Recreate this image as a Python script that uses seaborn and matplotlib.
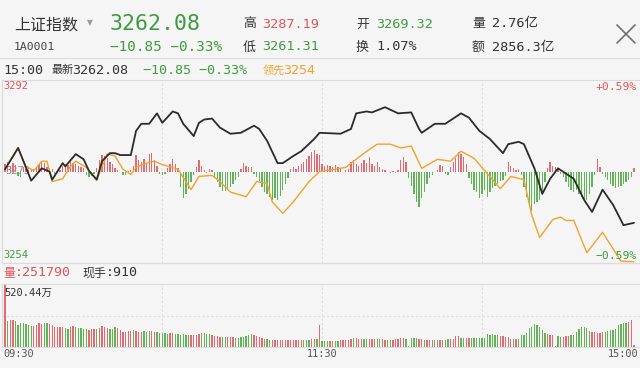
import numpy as np
import pandas as pd
import matplotlib
matplotlib.use("Agg")
import matplotlib.pyplot as plt
from matplotlib.lines import Line2D
import seaborn as sns

# ---------------- data ----------------
pre_close = 3272.93
y_top, y_bot = 3292.24, 3253.62

# price line (minute index, price)
t_price = [0, 5, 10, 14, 17, 18, 22, 23, 27, 30, 32, 35, 37, 40, 42, 44, 48, 50, 52, 55,
           58, 60, 64, 66, 68, 72, 74, 76, 79, 82, 86, 90, 95, 97, 100, 104, 106, 110, 113, 118,
           120, 128, 132, 134, 138, 140, 145, 150, 155, 158, 159, 164, 168, 174, 177, 181, 185, 190, 192, 196,
           198, 202, 205, 208, 211, 217, 221, 224, 228, 232, 236, 240]
price = [3273.4, 3277.9, 3271.0, 3273.6, 3272.9, 3271.2, 3274.7, 3274.0, 3276.6, 3275.5,
         3273.1, 3271.2, 3275.1, 3276.8, 3276.8, 3276.4, 3276.4, 3281.5, 3283.0, 3283.0,
         3285.2, 3283.2, 3285.6, 3285.2, 3283.0, 3280.4, 3283.2, 3283.9, 3284.1, 3282.2,
         3280.9, 3281.1, 3282.6, 3281.9, 3279.4, 3274.7, 3274.7, 3276.2, 3277.2, 3279.8,
         3281.1, 3280.9, 3281.9, 3285.2, 3285.6, 3285.4, 3286.5, 3285.2, 3285.4, 3281.9,
         3281.1, 3283.0, 3283.0, 3285.2, 3284.3, 3281.5, 3279.8, 3276.8, 3278.7, 3279.2,
         3278.7, 3273.6, 3268.2, 3271.4, 3273.6, 3271.4, 3266.9, 3264.4, 3269.1, 3265.9,
         3261.6, 3262.1]

# leading index line
t_lead = [1, 5, 8, 11, 14, 16, 18, 22, 25, 27, 31, 35, 39, 42, 45, 48, 50, 54, 57, 60,
          66, 71, 74, 79, 82, 86, 92, 96, 100, 102, 106, 110, 116, 120, 130, 137, 142, 147, 151, 155,
          159, 165, 170, 174, 179, 184, 189, 193, 198, 201, 204, 209, 212, 214, 217, 222, 228, 235, 240]
lead = [3274.4, 3277.9, 3274.0, 3273.1, 3275.1, 3275.1, 3270.8, 3271.4, 3274.0, 3275.1,
        3273.8, 3271.2, 3276.6, 3276.2, 3273.4, 3272.3, 3273.8, 3274.7, 3275.1, 3274.4,
        3273.4, 3269.1, 3271.9, 3272.1, 3270.8, 3268.6, 3267.6, 3270.8, 3270.4, 3266.5,
        3264.1, 3266.5, 3270.8, 3272.9, 3273.8, 3276.8, 3278.7, 3278.7, 3277.9, 3278.3,
        3273.6, 3275.5, 3275.1, 3277.2, 3275.7, 3272.5, 3269.3, 3271.9, 3271.2, 3263.7,
        3259.0, 3262.8, 3263.3, 3262.6, 3262.6, 3255.8, 3260.1, 3254.0, 3253.9]

# buy/sell strength bars (one per minute)
strength = [8, 10, 6, 9, 7, -4, -5, 5, 3, 2,
            2, 3, 5, 8, 10, 9, 5, 4, 3, -2,
            -1, 2, 6, 8, 7, 10, 9, 8, 6, 5,
            4, -3, -5, -4, -2, 4, 12, 17, 16, 14,
            10, 8, 4, 2, 0, -3, -3, 1, 2, 6,
            17, 12, 10, 13, 9, 18, 19, 12, 6, -2,
            -3, -2, 4, 8, 13, 8, 4, -15, -26, -22,
            -17, -10, -3, 5, 12, 6, 2, -1, 3, 2,
            -5, -10, -15, -19, -19, -18, -15, -12, -8, -5,
            3, 9, 6, 5, 5, -2, -5, -10, -15, -20,
            -22, -25, -28, -26, -28, -24, -18, -12, -6, 3,
            5, 3, 6, 8, 10, 13, 16, 20, 22, 18,
            17, 8, 6, 7, 6, 5, 7, 5, 3, 0,
            2, 3, 10, 12, 8, 6, 9, 12, 9, 15,
            8, 6, 10, 5, 3, 2, 0, -1, 1, -1,
            2, 12, 15, 10, -6, -14, -22, -30, -35, -26,
            -20, -12, -6, -3, 0, 2, 7, 6, -2, -3,
            5, 10, 14, 20, 18, 15, 8, -6, -12, -18,
            -20, -26, -22, -18, -25, -20, -16, -14, -12, -9,
            -8, -4, 10, 6, 4, 2, 3, -3, -15, -25,
            -35, -39, -32, -30, -28, -20, -10, 4, 10, 6,
            5, 3, -2, -5, -10, -15, -18, -20, -18, -22,
            -25, -29, -28, -22, -15, -3, 13, 5, -2, -5,
            -8, -12, -14, -16, -15, -14, -12, -10, -8, -5, 4]

# volume per minute (万手)
volume = [520.44,
          215, 223, 223, 215, 182, 198, 198, 190, 182, 173,
          173, 182, 198, 190, 198, 198, 190, 182, 165, 165,
          165, 165, 157, 149, 165, 173, 165, 157, 157, 149,
          149, 140, 149, 149, 149, 157, 173, 165, 157, 149,
          149, 165, 157, 140, 124, 124, 132, 132, 140, 132,
          124, 124, 132, 124, 132, 132, 124, 124, 116, 116,
          116, 107, 116, 116, 107, 107, 99, 107, 99, 99,
          99, 99, 99, 107, 116, 116, 107, 107, 99, 91,
          91, 83, 83, 83, 83, 83, 83, 74, 74, 83,
          83, 91, 99, 107, 99, 91, 83, 74, 66, 66,
          58, 58, 58, 58, 58, 58, 58, 58, 58, 58,
          58, 58, 58, 58, 58, 58, 66, 66, 66, 182,
          50, 50, 50, 50, 50, 50, 50, 58, 58, 58,
          58, 66, 74, 74, 66, 66, 66, 66, 66, 66,
          66, 66, 66, 66, 58, 58, 58, 58, 66, 66,
          74, 74, 66, 8, 74, 74, 74, 66, 66, 58,
          58, 58, 58, 58, 58, 58, 58, 58, 66, 66,
          66, 91, 91, 74, 74, 74, 74, 74, 74, 74,
          74, 74, 74, 107, 99, 107, 99, 99, 91, 91,
          83, 83, 66, 66, 66, 66, 99, 99, 116, 157,
          165, 190, 182, 165, 140, 116, 107, 99, 99, 8,
          91, 83, 83, 91, 91, 99, 99, 124, 149, 165,
          165, 157, 132, 124, 124, 116, 116, 124, 124, 132,
          140, 140, 149, 182, 190, 198, 198, 207, 223, 17]
vol_max = 520.44

vol_dir = ("rgrrgggggg" "grrrrggrrr" "rrrggrrggg" "ggrrrgrrrr" "gggrrrrrrg"
           "rrrgggrrgg" "gggrrggggg" "grrrrggggr" "rrrggrrrgg" "gggggrrrrr"
           "ggrrrrrrrr" "rrrrgggrrg" "rgggrrggrr" "rrrgrrrggr" "rrggrrggrr"
           "rrrgggggrr" "grrrggrrgg" "rrrrggrrgg" "gggggggggr" "rrrrgrgggg"
           "gggggggrrr" "gggrrrgggg" "ggggrrrrrg" "ggggggggrrr")

time_labels = ["09:30", "11:30", "15:00"]

# ---------------- style ----------------
BG = "#f5f5f5"
LINE = "#dcdcdc"
RED = "#e0555a"
GREEN = "#3d9c3d"
BAR_RED = "#e46a72"
BAR_GREEN = "#62b357"
ORANGE = "#f0a32c"
DARK = "#333333"
MONO = ["DejaVu Sans Mono", "Noto Sans CJK SC"]
CJK = ["Noto Sans CJK SC", "DejaVu Sans"]

sns.set_theme(style="white")
plt.rcParams["font.family"] = MONO

W, H = 640, 368
fig = plt.figure(figsize=(W / 100, H / 100), dpi=100, facecolor=BG)


def px_axes(x0, y0, x1, y1):
    return fig.add_axes([x0 / W, 1 - y1 / H, (x1 - x0) / W, (y1 - y0) / H])


def T(x, y, s, size, color, ha="left", fam=MONO, **kw):
    fig.text(x / W, 1 - y / H, s, fontsize=size, color=color, ha=ha, va="center",
             family=fam, **kw)


def hline(y, x0=0, x1=W):
    fig.add_artist(Line2D([x0 / W, x1 / W], [1 - y / H, 1 - y / H],
                          transform=fig.transFigure, color=LINE, lw=0.8))


XL = (-1.15, 243.05)
minutes = np.arange(len(strength))

# ---------------- main panel ----------------
ax = px_axes(2, 80, 642, 263)
ax.set_facecolor(BG)
dfb = pd.DataFrame({"m": minutes, "v": strength,
                    "s": np.where(np.array(strength) >= 0, "up", "down")})
sns.barplot(data=dfb, x="m", y="v", hue="s", palette={"up": BAR_RED, "down": BAR_GREEN},
            native_scale=True, width=0.5, errorbar=None, legend=False, dodge=False,
            saturation=1, linewidth=0, ax=ax)
ax.set_ylim(-91.5, 91.5)
ax.set_xlim(*XL)
for f in (0.25, 0.5, 0.75):
    ax.plot([f, f], [0, 1], transform=ax.transAxes, color=LINE, lw=0.8,
            ls=(0, (2, 2)), zorder=0)
ax.text(3 / 640, 0.5, "3273", transform=ax.transAxes, fontsize=7.5, color="#8a8a8a",
        va="center", ha="left", zorder=0.5, family=MONO)

ax2 = ax.twinx()
ax2.set_position(ax.get_position())
sns.lineplot(x=t_lead, y=lead, ax=ax2, color=ORANGE, lw=1.0, sort=False)
sns.lineplot(x=t_price, y=price, ax=ax2, color="#2b2b2b", lw=1.3, sort=False)
ax2.set_ylim(y_bot, y_top)
ax2.set_xlim(*XL)

for a in (ax, ax2):
    a.set_xticks([]); a.set_yticks([])
    a.set_xlabel(""); a.set_ylabel("")
    for sp in a.spines.values():
        sp.set_color(LINE); sp.set_linewidth(0.8)
ax2.spines["top"].set_visible(False)

# ---------------- volume panel ----------------
vax = px_axes(2, 284, 642, 347)
vax.set_facecolor(BG)
dfv = pd.DataFrame({"m": minutes, "v": volume, "d": list(vol_dir)})
sns.barplot(data=dfv, x="m", y="v", hue="d", palette={"r": BAR_RED, "g": BAR_GREEN},
            native_scale=True, width=0.5, errorbar=None, legend=False, dodge=False,
            saturation=1, linewidth=0, ax=vax)
vax.set_ylim(0, vol_max)
vax.set_xlim(*XL)
for f in (0.25, 0.5, 0.75):
    vax.plot([f, f], [0, 1], transform=vax.transAxes, color=LINE, lw=0.8,
             ls=(0, (2, 2)), zorder=0)
vax.plot([0, 1], [0.5, 0.5], transform=vax.transAxes, color=LINE, lw=0.8,
         ls=(0, (2, 2)), zorder=0)
vax.set_xticks([]); vax.set_yticks([])
vax.set_xlabel(""); vax.set_ylabel("")
for sp in vax.spines.values():
    sp.set_color(LINE); sp.set_linewidth(0.8)

# ---------------- header ----------------
hline(58)
T(14, 25, "上证指数", 11.5, DARK, fam=CJK)
T(90, 23, "▼", 5.5, "#9a9a9a", ha="center", fam=["DejaVu Sans"])
T(110, 24, "3262.08", 15.5, GREEN)
T(14, 47, "1A0001", 8.2, "#444444")
T(110, 47, "−10.85 −0.33%", 10.4, GREEN)

T(243, 24, "高", 9.3, DARK, fam=CJK)
T(262, 24, "3287.19", 9.7, RED)
T(243, 47, "低", 9.3, DARK, fam=CJK)
T(262, 47, "3261.31", 9.7, GREEN)
T(356, 24, "开", 9.3, DARK, fam=CJK)
T(376, 24, "3269.32", 9.7, GREEN)
T(356, 47, "换", 9.3, DARK, fam=CJK)
T(376, 47, "1.07%", 9.7, DARK)
T(472, 24, "量", 9.3, DARK, fam=CJK)
T(492, 24, "2.76亿", 9.7, DARK)
T(472, 47, "额", 9.3, DARK, fam=CJK)
T(492, 47, "2856.3亿", 9.7, DARK)
for (x0, y0, x1, y1) in [(617, 25, 635, 43), (617, 43, 635, 25)]:
    fig.add_artist(Line2D([x0 / W, x1 / W], [1 - y0 / H, 1 - y1 / H],
                          transform=fig.transFigure, color="#707070", lw=1.2))

# second row
T(3, 70, "15:00", 9.6, DARK)
T(52, 70, "最新", 8.0, DARK, fam=CJK)
T(72, 70, "3262.08", 9.6, DARK)
T(143, 70, "−10.85 −0.33%", 9.6, GREEN)
T(263, 70, "领先", 8.0, ORANGE, fam=CJK)
T(283, 70, "3254", 9.6, ORANGE)

# axis labels on main panel
T(3, 86, "3292", 7.5, RED)
T(3, 255, "3254", 7.5, GREEN)
T(637, 87, "+0.59%", 8.2, RED, ha="right")
T(637, 256, "−0.59%", 8.2, GREEN, ha="right")

# volume header
T(3, 273, "量", 8.6, RED, fam=CJK)
T(15, 273, ":251790", 9.5, RED)
T(82, 273, "现手", 8.6, DARK, fam=CJK)
T(106, 273, ":910", 9.5, DARK)
T(4, 293, "520.44万", 7.5, DARK)

# time labels
T(3, 354, time_labels[0], 7.4, "#555555")
T(322, 354, time_labels[1], 7.4, "#555555", ha="center")
T(638, 354, time_labels[2], 7.4, "#555555", ha="right")

fig.savefig("out.png", dpi=100, facecolor=BG)
